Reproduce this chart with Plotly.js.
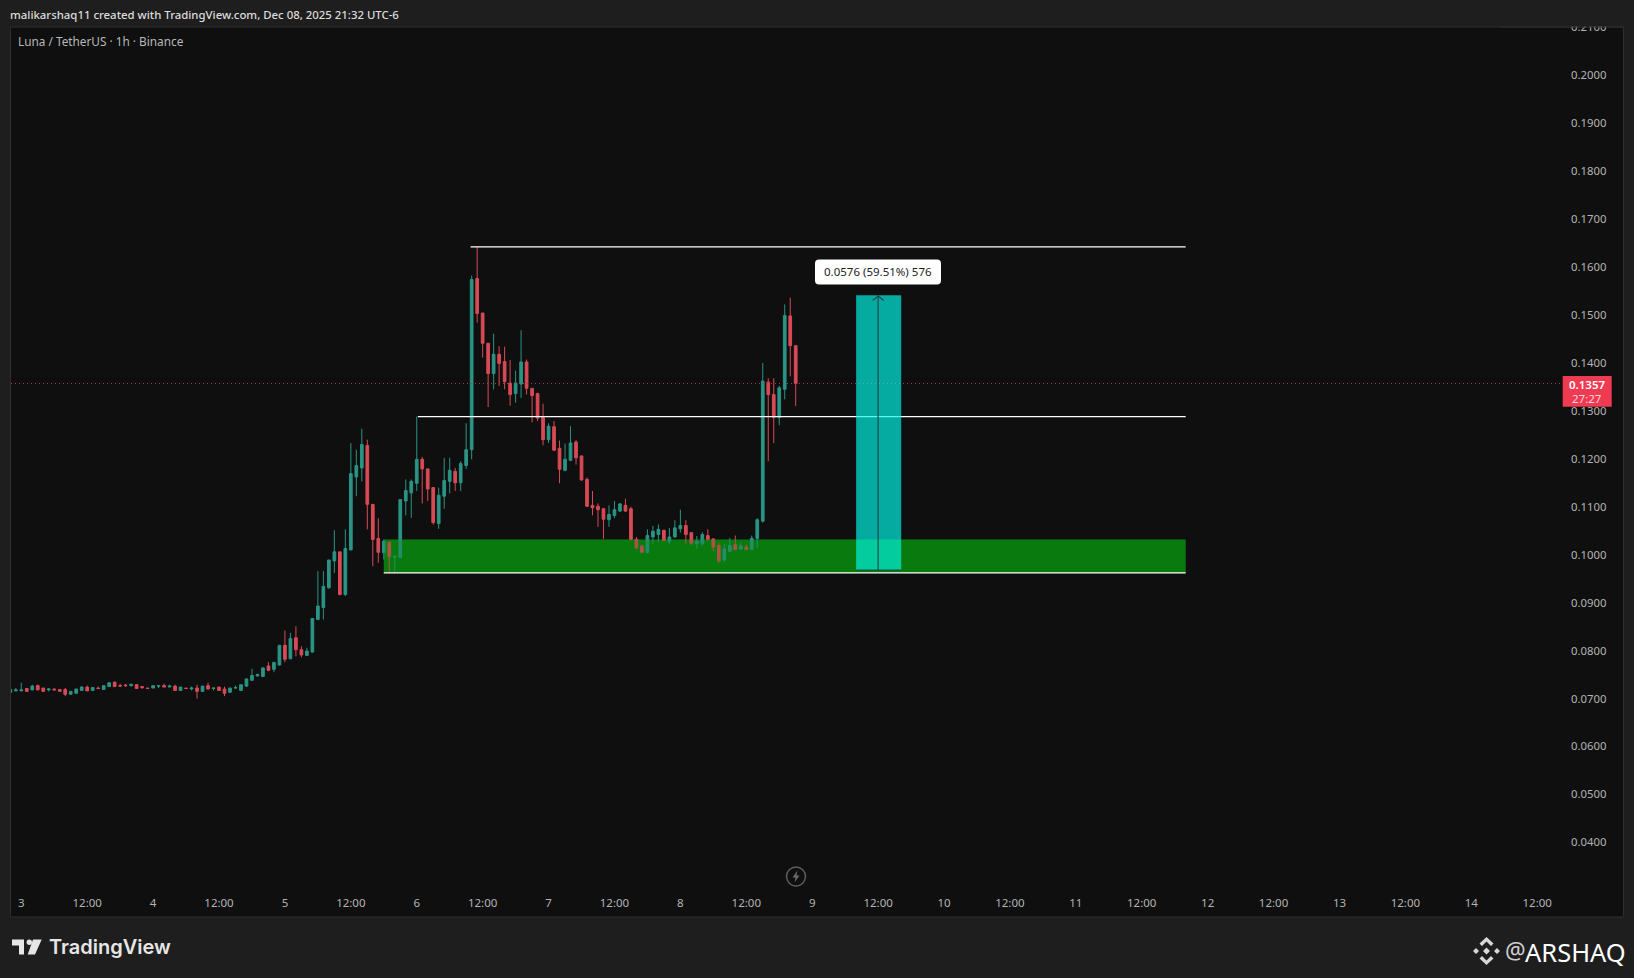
<!DOCTYPE html>
<html>
<head>
<meta charset="utf-8">
<script src="https://cdn.plot.ly/plotly-3.0.1.min.js"></script>
<style>html,body{margin:0;padding:0;background:#1e1e1e;overflow:hidden}#c{width:1634px;height:978px}</style>
</head>
<body>
<div id="c"></div>
<script>
const firstHour = -2;
const opens = [.0713,.0716,.0716,.0721,.0718,.0727,.0722,.0718,.0720,.0719,.0719,.0709,.0711,.0717,.0724,.0717,.0722,.0719,.0725,.0734,.0727,.0728,.0727,.0729,.0725,.0722,.0722,.0726,.0727,.0724,.0726,.0717,.0722,.0720,.0722,.0715,.0727,.0721,.0724,.0720,.0713,.0722,.0717,.0726,.0738,.0747,.0746,.0768,.0761,.0770,.0811,.0783,.0827,.0802,.0790,.0797,.0865,.0890,.0931,.0987,.1006,.0917,.1010,.1162,.1181,.1228,.1105,.1034,.1004,.1026,.0995,.0994,.1112,.1129,.1149,.1199,.1179,.1140,.1065,.1122,.1153,.1174,.1150,.1186,.1219,.1576,.1504,.1441,.1378,.1418,.1403,.1358,.1336,.1356,.1402,.1347,.1336,.1287,.1240,.1267,.1222,.1176,.1197,.1235,.1206,.1157,.1103,.1101,.1096,.1073,.1082,.1091,.1103,.1096,.1032,.1018,.1005,.1037,.1042,.1051,.1028,.1037,.1054,.1061,.1046,.1023,.1023,.1040,.1033,.1019,.0989,.1007,.1021,.1012,.1016,.1011,.1034,.1070,.1360,.1334,.1286,.1345,.1498,.1436];
const highs = [.0719,.0722,.0733,.0721,.0729,.0729,.0722,.0722,.0720,.0719,.0722,.0715,.0720,.0726,.0727,.0723,.0725,.0727,.0733,.0736,.0731,.0731,.0730,.0730,.0725,.0722,.0727,.0727,.0731,.0729,.0729,.0724,.0722,.0725,.0729,.0726,.0733,.0722,.0724,.0725,.0722,.0727,.0729,.0741,.0762,.0752,.0765,.0776,.0777,.0812,.0842,.0837,.0851,.0809,.0806,.0867,.0966,.0966,.0989,.1051,.1006,.1053,.1233,.1219,.1263,.1240,.1105,.1076,.1032,.1028,.0999,.1115,.1157,.1157,.1288,.1204,.1179,.1140,.1140,.1202,.1202,.1181,.1195,.1274,.1582,.1643,.1504,.1441,.1461,.1435,.1434,.1406,.1384,.1468,.1407,.1347,.1338,.1315,.1274,.1279,.1238,.1232,.1268,.1239,.1207,.1161,.1133,.1107,.1097,.1103,.1112,.1108,.1117,.1100,.1037,.1021,.1053,.1060,.1063,.1052,.1056,.1072,.1094,.1072,.1047,.1039,.1047,.1053,.1034,.1025,.1023,.1035,.1040,.1025,.1021,.1040,.1076,.1400,.1368,.1368,.1352,.1522,.1536,.1436];
const lows = [.0713,.0716,.0716,.0715,.0718,.0718,.0715,.0715,.0718,.0715,.0705,.0709,.0711,.0717,.0716,.0717,.0721,.0719,.0725,.0725,.0724,.0724,.0725,.0721,.0720,.0720,.0722,.0722,.0724,.0724,.0717,.0717,.0721,.0717,.0700,.0715,.0719,.0717,.0717,.0705,.0713,.0720,.0717,.0724,.0738,.0747,.0746,.0757,.0755,.0769,.0776,.0782,.0788,.0786,.0789,.0796,.0865,.0865,.0929,.0962,.0915,.0914,.1009,.1122,.1153,.1053,.0976,.0983,.0990,.0962,.0962,.0994,.1082,.1077,.1133,.1107,.1112,.1063,.1054,.1096,.1128,.1133,.1133,.1179,.1199,.1484,.1411,.1308,.1345,.1352,.1345,.1311,.1317,.1327,.1334,.1276,.1279,.1228,.1233,.1216,.1149,.1174,.1195,.1188,.1154,.1100,.1082,.1058,.1033,.1058,.1076,.1089,.1089,.1030,.1011,.1003,.1003,.1023,.1028,.1028,.1023,.1036,.1046,.1023,.1021,.1012,.1018,.1030,.1007,.0983,.0985,.1006,.1009,.1010,.1010,.1010,.1014,.1067,.1195,.1233,.1270,.1324,.1372,.1310];
const closes = [.0719,.0718,.0718,.0715,.0726,.0718,.0715,.0720,.0718,.0715,.0709,.0715,.0720,.0724,.0716,.0723,.0721,.0727,.0733,.0725,.0726,.0727,.0730,.0721,.0723,.0721,.0727,.0727,.0724,.0726,.0717,.0724,.0721,.0722,.0715,.0726,.0720,.0722,.0717,.0711,.0722,.0723,.0729,.0741,.0748,.0750,.0764,.0759,.0775,.0811,.0782,.0825,.0802,.0791,.0799,.0867,.0893,.0934,.0989,.1006,.0917,.1013,.1169,.1186,.1230,.1105,.1032,.1005,.1028,.0996,.0996,.1115,.1134,.1153,.1199,.1179,.1137,.1067,.1124,.1155,.1176,.1150,.1190,.1219,.1574,.1503,.1441,.1378,.1418,.1399,.1361,.1334,.1358,.1402,.1347,.1332,.1285,.1240,.1268,.1218,.1178,.1199,.1233,.1202,.1156,.1101,.1098,.1094,.1074,.1084,.1094,.1106,.1091,.1032,.1014,.1005,.1040,.1049,.1053,.1030,.1037,.1056,.1061,.1042,.1023,.1028,.1042,.1032,.1016,.0987,.1012,.1019,.1011,.1018,.1011,.1034,.1073,.1362,.1334,.1286,.1348,.1499,.1436,.1357];

const xTickHours = [0,12,24,36,48,60,72,84,96,108,120,132,144,156,168,180,192,204,216,228,240,252,264,276];
const xTickLabels = ['3','12:00','4','12:00','5','12:00','6','12:00','7','12:00','8','12:00','9','12:00','10','12:00','11','12:00','12','12:00','13','12:00','14','12:00'];
const yTickPrices = [.04,.05,.06,.07,.08,.09,.10,.11,.12,.13,.14,.15,.16,.17,.18,.19,.20,.21];
const yTickLabels = ['0.0400','0.0500','0.0600','0.0700','0.0800','0.0900','0.1000','0.1100','0.1200','0.1300','0.1400','0.1500','0.1600','0.1700','0.1800','0.1900','0.2000','0.2100'];

const zonePrices = [.0962,.1032];
const zoneHours = [66,212];
const peakLine = {price:.1642, startHour:81.8, endHour:212};
const midLine = {price:.1288, startHour:72.2, endHour:212};
const baseLine = {price:.0962, startHour:66, endHour:212};
const rangePrices = [.0968,.1541];
const rangeHours = [152,160.2,156];
const rangeLabel = '0.0576 (59.51%) 576';
const lastPriceLabel = '0.1357';
const countdownLabel = '27:27';
const headerText = 'malikarshaq11 created with TradingView.com, Dec 08, 2025 21:32 UTC-6';
const symbolText = 'Luna / TetherUS · 1h · Binance';

// plot box in page pixels
const L=11,R=1563,T=27,B=880;
const X=p=>(p-L)/(R-L), Y=p=>(B-p)/(B-T);
const FONT='"Noto Sans", sans-serif';
const GREEN='#2a9485', RED='#d84a56';

const hours = opens.map((_,i)=>firstHour+i);
const trace = {
  type:'candlestick', x:hours, open:opens, high:highs, low:lows, close:closes,
  width:.42, whiskerwidth:0, hoverinfo:'skip',
  increasing:{line:{color:GREEN,width:1},fillcolor:GREEN},
  decreasing:{line:{color:RED,width:1},fillcolor:RED}
};

function px(anchorX,anchorY,path,fill,line){
  return {type:'path',xref:'paper',yref:'paper',xsizemode:'pixel',ysizemode:'pixel',
    xanchor:X(anchorX),yanchor:Y(anchorY),path,fillcolor:fill||'rgba(0,0,0,0)',
    line:line||{width:0},layer:'above'};
}
function hline(l){return {type:'line',xref:'x',yref:'y',x0:l.startHour,x1:l.endHour,y0:l.price,y1:l.price,line:{color:'#ffffff',width:1.2},layer:'above'};}
function diamond(cx,cy,r){return `M${cx},${cy+r} L${cx+r},${cy} L${cx},${cy-r} L${cx-r},${cy} Z `;}

const shapes = [
  // pane
  {type:'rect',xref:'paper',yref:'paper',x0:X(10.5),x1:X(1623.5),y0:Y(27),y1:Y(917),fillcolor:'#0f0f0f',line:{color:'#2e2e2e',width:1},layer:'below'},
  // support zone
  {type:'rect',xref:'x',yref:'y',x0:zoneHours[0],x1:zoneHours[1],y0:zonePrices[0],y1:zonePrices[1],fillcolor:'#0a7a0f',line:{width:0},layer:'below'},
  // zone tint over the candles
  {type:'rect',xref:'x',yref:'y',x0:zoneHours[0],x1:zoneHours[1],y0:zonePrices[0],y1:zonePrices[1],fillcolor:'rgba(10,122,15,0.22)',line:{width:0},layer:'above'},
  // mask for clipped top tick
  {type:'rect',xref:'paper',yref:'paper',x0:X(1500),x1:X(1634),y0:Y(0),y1:Y(26.5),fillcolor:'#1e1e1e',line:{width:0},layer:'above'},
  {type:'line',xref:'paper',yref:'paper',x0:X(1500),x1:X(1624),y0:Y(27),y1:Y(27),line:{color:'#2e2e2e',width:1},layer:'above'},
  // last price
  {type:'line',xref:'paper',yref:'y',x0:0,x1:1,y0:closes[closes.length-1],y1:closes[closes.length-1],line:{color:'#a8434c',width:1,dash:'1px,3px'},layer:'above'},
  hline(peakLine),hline(midLine),hline(baseLine),
  // date and price range box
  {type:'rect',xref:'x',yref:'y',x0:rangeHours[0],x1:rangeHours[1],y0:rangePrices[0],y1:rangePrices[1],fillcolor:'rgba(0,247,232,0.667)',line:{width:0},layer:'above'},
  {type:'line',xref:'x',yref:'y',x0:rangeHours[2],x1:rangeHours[2],y0:rangePrices[0],y1:rangePrices[1],line:{color:'#1e4a4a',width:1.2},layer:'above'},
  {type:'line',xref:'x',yref:'y',x0:rangeHours[0],x1:rangeHours[1],y0:rangePrices[0],y1:rangePrices[0],line:{color:'#1e4a4a',width:1},layer:'above'},
  px(878.2,296,'M-5.5,-4.5 L0,0 L5.5,-4.5',null,{color:'#1e4a4a',width:1.2}),
  // callout
  px(878,272,'M-59,12.5 L59,12.5 Q63,12.5 63,8.5 L63,-8.5 Q63,-12.5 59,-12.5 L-59,-12.5 Q-63,-12.5 -63,-8.5 L-63,8.5 Q-63,12.5 -59,12.5 Z','#ffffff'),
  // price tag
  {type:'rect',xref:'paper',yref:'paper',x0:X(1562.7),x1:X(1611.7),y0:Y(376),y1:Y(406.7),fillcolor:'#ee3b52',line:{width:0},layer:'above'},
  // replay icon
  {type:'circle',xref:'paper',yref:'paper',xsizemode:'pixel',ysizemode:'pixel',xanchor:X(796),yanchor:Y(876.5),x0:-9.5,x1:9.5,y0:-9.5,y1:9.5,fillcolor:'rgba(0,0,0,0)',line:{color:'#5c5c5c',width:1.5},layer:'above'},
  px(796,876.5,'M1.5,6 L-3.5,-1 L-0.5,-1 L-1.5,-6 L3.5,1 L0.5,1 Z','#6a6a6a'),
  // TradingView mark
  px(12,954.5,'M0,15 L12,15 L12,0 L7,0 L7,9 L0,9 Z M21,15 L29.7,15 L23,0 L15.7,0 Z','#e6e6e6'),
  {type:'circle',xref:'paper',yref:'paper',xsizemode:'pixel',ysizemode:'pixel',xanchor:X(29.3),yanchor:Y(942.2),x0:-2.7,x1:2.7,y0:-2.7,y1:2.7,fillcolor:'#e6e6e6',line:{width:0},layer:'above'},
  // exchange mark
  px(1486.5,951,'M0,14 L7,7.5 L4.5,5 L0,9.5 L-4.5,5 L-7,7.5 Z M0,-14 L7,-7.5 L4.5,-5 L0,-9.5 L-4.5,-5 L-7,-7.5 Z '+diamond(-10.5,0,3)+diamond(10.5,0,3)+diamond(0,0,3.5),'#d8d8d8')
];

function note(text,px_,py,size,color,anchor,weight,family){
  return {xref:'paper',yref:'paper',x:X(px_),y:Y(py),text,showarrow:false,xanchor:anchor||'left',yanchor:'middle',
    font:{family:family||FONT,size,color,weight:weight||400},borderpad:0,borderwidth:0,align:anchor||'left'};
}
const annotations = [
  note(headerText,9.5,14.5,11.4,'#dcdcdc','left',500),
  note(symbolText,17.5,41.5,11.8,'#b8b8b8'),
  note(rangeLabel,878,271.5,11.5,'#1e1e1e','center'),
  note(lastPriceLabel,1587,384,11.5,'#ffffff','center',600),
  note(countdownLabel,1587,398,11.5,'#ffd4da','center'),
  note('TradingView',48.5,947,20,'#e6e6e6','left',600,'Inter, sans-serif'),
  note('@',1505,950,23,'#cfcfcf','left'),
  note('ARSHAQ',1626,951.5,25.5,'#ffffff','right')
];

Plotly.newPlot('c',[trace],{
  width:1634,height:978,autosize:false,showlegend:false,hovermode:false,dragmode:false,
  paper_bgcolor:'#1e1e1e',plot_bgcolor:'rgba(0,0,0,0)',
  margin:{l:L,r:1634-R,t:T,b:978-B,pad:0},
  xaxis:{type:'linear',range:[-1.873,280.7],tickmode:'array',tickvals:xTickHours,ticktext:xTickLabels,
    showgrid:false,zeroline:false,showline:false,ticks:'',ticklabelstandoff:14,
    tickfont:{family:FONT,size:11.5,color:'#b4b4b4'},rangeslider:{visible:false},fixedrange:true},
  yaxis:{type:'linear',side:'right',range:[.03216,.21006],tickmode:'array',tickvals:yTickPrices,ticktext:yTickLabels,
    showgrid:false,zeroline:false,showline:false,ticks:'',ticklabelstandoff:7,
    tickfont:{family:FONT,size:11.3,color:'#b4b4b4'},fixedrange:true},
  shapes,annotations
},{displayModeBar:false,staticPlot:true});
</script>
</body>
</html>
